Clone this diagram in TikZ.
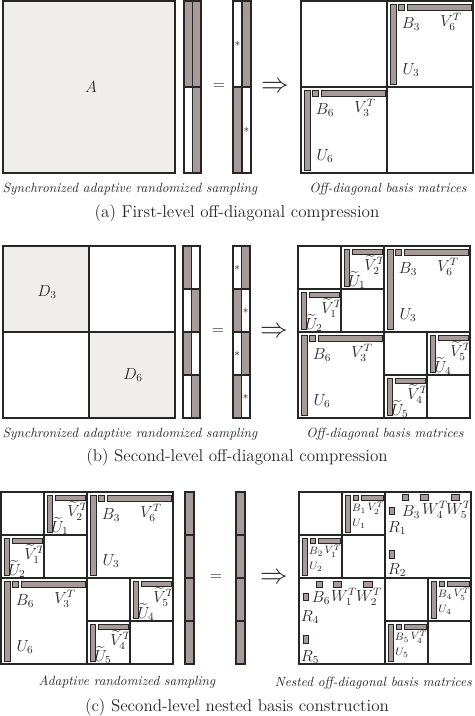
\documentclass[tikz,border=0pt]{standalone}
\usepackage{amsmath,amssymb}
\usepackage{xcolor}
\usepackage{tikz}
\usetikzlibrary{positioning}
\definecolor{ink}{HTML}{262626}
\definecolor{barfill}{HTML}{A69B99}
\definecolor{paleg}{HTML}{F0EEEC}
\tikzset{
  matline/.style={draw=ink, line width=1.2pt},
  bar/.style={draw=ink, fill=barfill, line width=0.7pt},
  vec/.style={draw=ink, line width=1pt},
  lab/.style={text=ink, font=\fontsize{11.5}{13}\selectfont, inner sep=0pt},
  labs/.style={text=ink, font=\fontsize{8.5}{10}\selectfont, inner sep=0pt},
  asterisk/.style={text=ink, font=\footnotesize, inner sep=0pt},
  captxt/.style={text=ink, font=\normalsize\itshape, inner sep=0pt},
  subcap/.style={text=ink, font=\fontsize{12.8}{14}\selectfont, inner sep=0pt},
  sym/.style={text=ink, inner sep=0pt},
}

% two-level partition, corner at (0,0)
\newcommand{\hgrid}{%
  \draw[matline] (0,0) rectangle (172,172);
  \draw[matline] (86,0) -- (86,172) (0,86) -- (172,86);
  \draw[matline] (43,0) -- (43,86) (0,43) -- (86,43);
  \draw[matline] (129,86) -- (129,172) (86,129) -- (172,129);
}

% first-level block: U bar, B square, V bar
\newcommand{\topblk}[6]{%
  \draw[bar] (#1+3,#2+3) rectangle (#1+9,#2+83);
  \draw[bar] (#1+11,#2+3) rectangle (#1+17,#2+9);
  \draw[bar] (#1+20,#2+3) rectangle (#1+84,#2+9);
  \node[lab] (#6b) at (#1+24,#2+23) {$#3$};
  \node[lab] (#6v) at (#1+64,#2+21) {$#4$};
  \node[lab] (#6u) at (#1+24,#2+69) {$#5$};
}

% second-level block, tilde bases
\newcommand{\lowblk}[5]{%
  \draw[bar] (#1+3,#2+3) rectangle (#1+8,#2+40);
  \draw[bar] (#1+11,#2+3) rectangle (#1+41,#2+8);
  \node[lab] (#5u) at (#1+16,#2+34) {$\widetilde{U}_{#3}$};
  \node[lab] (#5v) at (#1+34,#2+19) {$\widetilde{V}_{#4}^T$};
}

% second-level block, nested form
\newcommand{\nestblk}[5]{%
  \draw[bar] (#1+3,#2+3) rectangle (#1+8,#2+40);
  \draw[bar] (#1+11,#2+3) rectangle (#1+16,#2+8);
  \draw[bar] (#1+19,#2+3) rectangle (#1+41,#2+8);
  \node[labs] (#5b) at (#1+17,#2+17) {$B_{#3}$};
  \node[labs] (#5v) at (#1+34,#2+16) {$V_{#4}^T$};
  \node[labs] (#5u) at (#1+17,#2+32) {$U_{#3}$};
}

\newcommand{\twolevel}[1]{%
  \hgrid
  \lowblk{43}{0}{1}{2}{#1a}
  \lowblk{0}{43}{2}{1}{#1b}
  \topblk{86}{0}{B_3}{V_6^T}{U_3}{#1c}
  \topblk{0}{86}{B_6}{V_3^T}{U_6}{#1d}
  \lowblk{129}{86}{4}{5}{#1e}
  \lowblk{86}{129}{5}{4}{#1f}
}

\begin{document}
\begin{tikzpicture}[x=0.75pt, y=-0.75pt]
\useasboundingbox (0,0) rectangle (474,716);

% (a) first level
\draw[matline, fill=paleg] (3,1) rectangle (175,173);
\node[lab] (A) at (91,87) {$A$};
\fill[barfill] (184,1) rectangle (192.5,87);
\fill[barfill] (192.5,1) rectangle (201,173);
\draw[vec] (184,1) rectangle (201,173);
\draw[vec] (192.5,1) -- (192.5,173) (184,87) -- (201,87);
\node[sym, font=\large] (eqa) at (219,87) {$=$};
\fill[barfill] (242,1) rectangle (251,87);
\fill[barfill] (233,87) rectangle (242,173);
\draw[vec] (233,1) rectangle (251,173);
\draw[vec] (242,1) -- (242,173) (233,87) -- (251,87);
\node[asterisk] (sa1) at (237.5,44) {$*$};
\node[asterisk] (sa2) at (246.5,130) {$*$};
\node[sym, font=\huge] (impa) at (275,87) {$\Rightarrow$};
\begin{scope}[shift={(301,1)}]
  \draw[matline] (0,0) rectangle (172,172);
  \draw[matline] (86,0) -- (86,172) (0,86) -- (172,86);
  \topblk{86}{0}{B_3}{V_6^T}{U_3}{ac}
  \topblk{0}{86}{B_6}{V_3^T}{U_6}{ad}
\end{scope}
\node[captxt] (capa1) at (130,189) {Synchronized adaptive randomized sampling};
\node[captxt] (capa2) at (388,189) {Off-diagonal basis matrices};
\node[subcap] (suba) at (237,213) {(a) First-level off-diagonal compression};

% (b) second level
\begin{scope}[shift={(3,246)}]
  \fill[paleg] (0,0) rectangle (86,86) (86,86) rectangle (172,172);
  \draw[matline] (0,0) rectangle (172,172);
  \draw[matline] (86,0) -- (86,172) (0,86) -- (172,86);
  \node[lab] (D3) at (44,46) {$D_3$};
  \node[lab] (D6) at (130,129) {$D_6$};
\end{scope}
\fill[barfill] (183,246) rectangle (191.5,289) (191.5,289) rectangle (200,332)
  (183,332) rectangle (191.5,375) (191.5,375) rectangle (200,418);
\draw[vec] (183,246) rectangle (200,418);
\draw[vec] (191.5,246) -- (191.5,418) (183,289) -- (200,289)
  (183,332) -- (200,332) (183,375) -- (200,375);
\node[sym, font=\large] (eqb) at (218,332) {$=$};
\fill[barfill] (241.5,246) rectangle (250,289) (233,289) rectangle (241.5,332)
  (241.5,332) rectangle (250,375) (233,375) rectangle (241.5,418);
\draw[vec] (233,246) rectangle (250,418);
\draw[vec] (241.5,246) -- (241.5,418) (233,289) -- (250,289)
  (233,332) -- (250,332) (233,375) -- (250,375);
\node[asterisk] (sb1) at (237.2,268) {$*$};
\node[asterisk] (sb2) at (245.8,311) {$*$};
\node[asterisk] (sb3) at (237.2,354) {$*$};
\node[asterisk] (sb4) at (245.8,397) {$*$};
\node[sym, font=\huge] (impb) at (274,332) {$\Rightarrow$};
\begin{scope}[shift={(298,246)}]
  \twolevel{b}
\end{scope}
\node[captxt] (capb1) at (130,434) {Synchronized adaptive randomized sampling};
\node[captxt] (capb2) at (385,434) {Off-diagonal basis matrices};
\node[subcap] (subb) at (237,457) {(b) Second-level off-diagonal compression};

% (c) nested bases
\begin{scope}[shift={(1,492)}]
  \twolevel{c}
\end{scope}
\draw[vec, fill=barfill] (185,492) rectangle (194,664);
\draw[vec] (185,535) -- (194,535) (185,578) -- (194,578) (185,621) -- (194,621);
\node[sym, font=\large] (eqc) at (216,578) {$=$};
\draw[vec, fill=barfill] (236,492) rectangle (245,664);
\draw[vec] (236,535) -- (245,535) (236,578) -- (245,578) (236,621) -- (245,621);
\node[sym, font=\huge] (impc) at (274,578) {$\Rightarrow$};
\begin{scope}[shift={(299,492)}]
  \hgrid
  \nestblk{43}{0}{1}{2}{ne}
  \nestblk{0}{43}{2}{1}{nf}
  \nestblk{129}{86}{4}{5}{ng}
  \nestblk{86}{129}{5}{4}{nh}
  % top-right block
  \draw[bar] (103,2) rectangle (109,8);
  \draw[bar] (121,2) rectangle (129,8);
  \draw[bar] (152,2) rectangle (160,8);
  \draw[bar] (90,15) rectangle (95,22);
  \draw[bar] (90,58) rectangle (95,66);
  \node[lab] (nb3) at (112,20) {$B_3$};
  \node[lab] (nw4) at (136,18) {$W_4^T$};
  \node[lab] (nw5) at (160,18) {$W_5^T$};
  \node[lab] (nr1) at (98,36) {$R_1$};
  \node[lab] (nr2) at (98,78) {$R_2$};
  % bottom-left block
  \draw[bar] (17,89) rectangle (23,95);
  \draw[bar] (34,89) rectangle (42,95);
  \draw[bar] (64,89) rectangle (73,95);
  \draw[bar] (4,101) rectangle (9,108);
  \draw[bar] (4,143) rectangle (9,151);
  \node[lab] (nb6) at (22,106) {$B_6$};
  \node[lab] (nw1) at (45,105) {$W_1^T$};
  \node[lab] (nw2) at (70,105) {$W_2^T$};
  \node[lab] (nr4) at (11,125) {$R_4$};
  \node[lab] (nr5) at (11,165) {$R_5$};
\end{scope}
\node[captxt] (capc1) at (127,682) {Adaptive randomized sampling};
\node[captxt, anchor=east] (capc2) at (472,683) {Nested off-diagonal basis matrices};
\node[subcap] (subc) at (237,707) {(c) Second-level nested basis construction};
\end{tikzpicture}
\end{document}
